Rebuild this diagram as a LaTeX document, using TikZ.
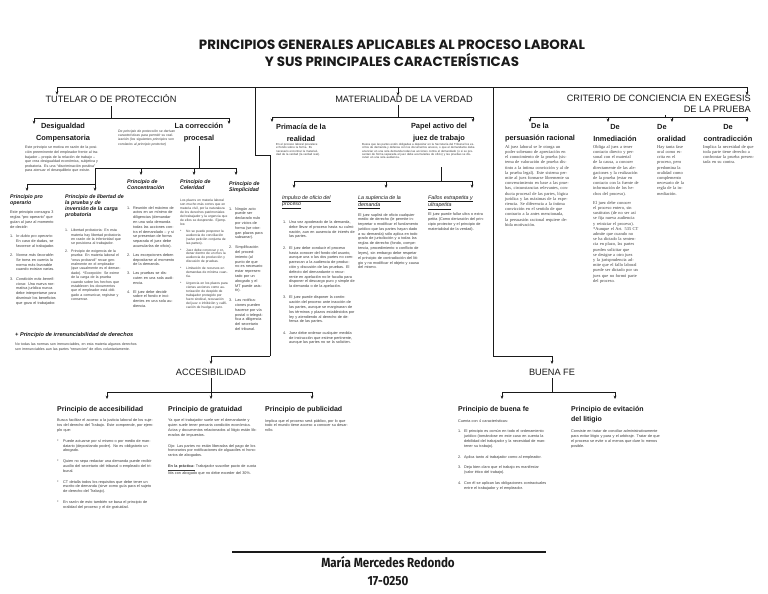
\documentclass[tikz,border=0pt]{standalone}
\usepackage{fontspec}
\setmainfont{Liberation Sans}
\newfontfamily\titlefont{Poppins}
\newfontfamily\bodyserif{Liberation Serif}
\newfontfamily\signfont[FakeStretch=0.88]{Fira Sans}
\usetikzlibrary{arrows.meta}
\definecolor{InkDark}{HTML}{1A1A1A}
\definecolor{InkBody}{HTML}{3C3C3C}
% numbered / starred entry with hanging indent
\newlength{\itemgap}
\setlength{\itemgap}{3pt}
\newcommand{\itm}[2]{\par\vskip\itemgap\noindent\hangindent=6pt\hangafter=1\makebox[6pt][l]{#1}#2\par}

\begin{document}
\begin{tikzpicture}[x=1pt,y=-1pt,
  every node/.style={inner sep=0pt, text=InkDark},
  conn/.style={line width=0.85pt, draw=InkDark},
  toarrow/.style={conn, -{Stealth[length=3.4pt,width=2.8pt]}},
  maintitle/.style={font=\titlefont\bfseries\fontsize{13.4}{17}\selectfont, align=center},
  sechead/.style={font=\fontsize{9.2}{11}\selectfont, align=right},
  subhead/.style={font=\bfseries\fontsize{7.4}{12}\selectfont, align=center},
  ithead/.style={anchor=north west, align=left, font=\bfseries\itshape\fontsize{5.3}{6.3}\selectfont},
  ulhead/.style={anchor=north west, align=left, font=\itshape\fontsize{5.3}{6.3}\selectfont},
  prinhead/.style={anchor=north west, align=left, font=\bfseries\fontsize{7}{10}\selectfont},
  body/.style={anchor=north west, align=left, text=InkBody, font=\fontsize{3.8}{4.8}\selectfont},
  smallbody/.style={body, font=\fontsize{3.6}{4.4}\selectfont},
  tinybody/.style={body, font=\fontsize{2.9}{3.4}\selectfont},
  serifbody/.style={body, font=\bodyserif\fontsize{4.4}{5.2}\selectfont},
  notebody/.style={body, font=\itshape\fontsize{3.4}{4.1}\selectfont}]
\useasboundingbox[fill=white] (0,0) rectangle (768,594);

% title and top line
\node[maintitle] (title) at (392,53) {PRINCIPIOS GENERALES APLICABLES AL PROCESO LABORAL\\Y SUS PRINCIPALES CARACTERÍSTICAS};
\coordinate (topL) at (57,87);
\coordinate (topR) at (747,87);
\coordinate (topM) at (398,87);
\coordinate (sepA) at (255,87);
\coordinate (sepB) at (493,87);
\draw[conn] (topL) -- (topR);

\node[sechead] (tutelar) at (111,99) {TUTELAR O DE PROTECCIÓN};
\node[sechead] (materia) at (404,99) {MATERIALIDAD DE LA VERDAD};
\node[sechead, anchor=north east] (criterio) at (751,95) {CRITERIO DE CONCIENCIA EN EXEGESIS\\DE LA PRUEBA};
\draw[toarrow] (topL) -- (tutelar.north -| topL);
\draw[toarrow] (topM) -- (materia.north -| topM);
\draw[toarrow] (topR) -- (criterio.north -| topR);

% column borders
\coordinate (sepAj) at (255,155);
\coordinate (sepAk) at (270,155);
\coordinate (sepAb) at (270,356);
\coordinate (accIn) at (211,364);
\coordinate (sepBb) at (493,356);
\coordinate (bfIn) at (552,364);
\draw[conn] (sepA) -- (sepAj) -- (sepAk) -- (sepAb);
\draw[toarrow] (sepAb) -| (accIn);
\draw[conn] (sepB) -- (sepBb);
\draw[toarrow] (sepBb) -| (bfIn);

% ---------- TUTELAR ----------
\coordinate (tutJ) at (111,118);
\coordinate (desigIn) at (34,124);
\coordinate (correcIn) at (229,124);
\draw[conn, shorten <=3pt] (tutelar.south) -- (tutJ);
\draw[toarrow] (tutJ) -| (desigIn);
\draw[toarrow] (tutJ) -| (correcIn);

\node[subhead] (desig) at (63,133) {Desigualdad\\Compensatoria};
\node[subhead] (correc) at (199,133) {La corrección\\procesal};
\node[body, text width=77pt, font=\fontsize{3.6}{4.6}\selectfont] (desigtxt) at (25,146) {Este principio se motiva en razón de la posición preeminente del empleador frente al trabajador – propia de la relación de trabajo – que crea desigualdad económica, subjetiva y probatoria. Es una “discriminación positiva” para atenuar el desequilibrio que existe.};
\node[notebody, text width=62pt] (derivtxt) at (118,130) {De principio de protección se derivan características para permitir su realización (los siguientes principios son corolarios al principio protector)};

\coordinate (procJ) at (199,168);
\coordinate (procL) at (95,168);
\coordinate (concIn) at (141,175);
\coordinate (celIn) at (194,175);
\coordinate (simpIn) at (236,175);
\coordinate (libJ) at (95,184);
\coordinate (proIn) at (27,191);
\coordinate (libIn) at (95,191);
\draw[conn, shorten <=3pt] (correc.south) -- (procJ);
\draw[conn] (procJ) -- (procL) -- (libJ);
\draw[toarrow] (procJ) -| (simpIn);
\draw[toarrow] (celIn |- procJ) -- (celIn);
\draw[toarrow] (concIn |- procJ) -- (concIn);
\draw[toarrow] (libJ) -| (proIn);
\draw[toarrow] (libJ) -- (libIn);

\node[ithead] (prohead) at (10,194) {Principio pro\\operario};
\node[body, text width=46pt] (protxt) at (10,211) {\setlength{\itemgap}{4.5pt}Este principio consagra 3 reglas “pro operario” que guían al juez al momento de decidir:
\itm{1.}{\textit{In dubio pro operario}: En caso de dudas, se favorece al trabajador.}
\itm{2.}{\textit{Norma más favorable}: Se toma en cuenta la norma más favorable cuando existan varias.}
\itm{3.}{\textit{Condición más beneficiosa}: Una nueva normativa jurídica nunca debe interpretarse para disminuir los beneficios que goza el trabajador.}};

\node[ithead] (libhead) at (65,194) {Principio de libertad de\\la prueba y de\\inversión de la carga\\probatoria};
\node[smallbody, text width=56pt] (libtxt) at (65,224) {\itm{1.}{Libertad probatoria: En esta materia hay libertad probatoria en razón de la inferioridad que se posiciona al trabajador.}
\itm{2.}{Principio de exigencia de la prueba: En materia laboral el “onus probandi” recae generalmente en el empleador (que usualmente es el demandado). *Excepción: Se exime de la carga de la prueba cuando sobre los hechos que establecen los documentos que el empleador está obligado a comunicar, registrar y conservar.}};

\node[ithead] (conchead) at (127,179) {Principio de\\Concentración};
\node[body, text width=47pt] (conctxt) at (127,200) {\setlength{\itemgap}{4pt}\itm{1.}{Reunión del máximo de actos en un mínimo de diligencias (demandar en una sola demanda todas las acciones contra el demandado – y si se presentan de forma separada el juez debe acumularlas de oficio).}
\itm{2.}{Las excepciones deben depositarse al momento de la demanda.}
\itm{3.}{Las pruebas se discuten en una sola audiencia.}
\itm{4.}{El juez debe decidir sobre el fondo e incidentes en una sola audiencia.}};

\node[ithead] (celhead) at (180,179) {Principio de\\Celeridad};
\node[body, text width=48pt, font=\fontsize{3.3}{3.95}\selectfont] (celtxt) at (180,199) {Los plazos en materia laboral son mucho más cortos que en materia civil, por la naturaleza de los derechos patrimoniales del trabajador y la urgencia que de ellos se desprende. Ejemplos:
\itm{*}{No se puede posponer la audiencia de conciliación (salvo petición conjunta de las partes).}
\itm{*}{Juez debe convocar y ordenar dentro de un mes la audiencia de producción y discusión de pruebas.}
\itm{*}{Limitación de recursos en demandas de mínima cuantía.}
\itm{*}{Urgencia en los plazos para ciertas acciones como autorización de despido de trabajador protegido por fuero sindical, recusación del juez o inhibición y calificación de huelga o paro.}};

\node[ithead] (simphead) at (229,181) {Principio de\\Simplicidad};
\node[body, text width=34pt] (simptxt) at (229,200) {\setlength{\itemgap}{5pt}\itm{1.}{Ningún acto puede ser declarado nulo por vicios de forma (se otorgan plazos para subsanar).}
\itm{2.}{Simplificación del procedimiento (al punto de que no es necesario estar representado por un abogado y el MT puede asistir).}
\itm{3.}{Las notificaciones pueden hacerse por vía postal o telegráfica a diligencia del secretario del tribunal.}};

\node[ithead, font=\bfseries\itshape\fontsize{5.6}{6.6}\selectfont] (irren) at (15,332) {+ Principio de irrenunciabilidad de derechos};
\node[body, text width=126pt, font=\fontsize{3.6}{4.4}\selectfont] (irrentxt) at (15,343) {No todas las normas son irrenunciables, en esta materia algunos derechos son irrenunciables aun las partes “renuncien” de ellos voluntariamente.};

% ---------- MATERIALIDAD ----------
\coordinate (matJ) at (398,117);
\coordinate (primIn) at (272,122);
\coordinate (papelIn) at (473,122);
\draw[conn, shorten <=3pt] (materia.south -| matJ) -- (matJ);
\draw[toarrow] (matJ) -| (primIn);
\draw[toarrow] (matJ) -| (papelIn);

\node[subhead] (primacia) at (301,133) {Primacía de la\\realidad};
\node[subhead] (papel) at (439,133) {Papel activo del\\juez de trabajo};
\node[tinybody, text width=44pt] (primtxt) at (276,143) {En el proceso laboral prevalece el fondo sobre la forma. Es necesario encontrar la materialidad de la verdad (la verdad real).};
\node[tinybody, text width=114pt] (papeltxt) at (362,143) {Busca que las partes estén obligadas a depositar en la Secretaría del Tribunal los escritos de demanda y defensa con los documentos anexos, o que el demandante deba anunciar en una sola demanda todas las acciones contra el demandado (o si se presentan de forma separada el juez debe acumularlas de oficio) y las pruebas se discuten en una sola audiencia.};

\coordinate (papJ) at (441,181);
\coordinate (impIn) at (294,188);
\coordinate (supIn) at (386,188);
\coordinate (falIn) at (472,188);
\draw[conn, shorten <=8pt] (papeltxt.south -| papJ) -- (papJ);
\draw[toarrow] (papJ) -| (impIn);
\draw[toarrow] (papJ) -| (falIn);
\draw[toarrow] (supIn |- papJ) -- (supIn);

\node[ulhead] (imphead) at (282,195) {\underline{Impulso de oficio del}\\\underline{proceso}};
\node[body, text width=72pt] (imptxt) at (283,212) {\setlength{\itemgap}{6.5pt}\itm{1.}{Una vez apoderado de la demanda, debe llevar el proceso hasta su culminación, aun en ausencia de interés de las partes.}
\itm{2.}{El juez debe conducir el proceso hasta conocer del fondo del asunto, aunque una o las dos partes no comparezcan a la audiencia de producción y discusión de las pruebas. El defecto del demandante o recurrente en apelación no le faculta para disponer el descargo puro y simple de la demanda o de la apelación.}
\itm{3.}{El juez puede disponer la continuación del proceso ante inacción de las partes, aunque se marginaran de los términos y plazos establecidos por ley y atendiendo al derecho de defensa de las partes.}
\itm{4.}{Juez debe ordenar cualquier medida de instrucción que estime pertinente, aunque las partes no se la soliciten.}};

\node[ulhead] (suphead) at (358,195) {\underline{La suplencia de la}\\\underline{demanda}};
\node[body, text width=61pt] (suptxt) at (358,213) {El juez suplirá de oficio cualquier medio de derecho (le permite interpretar o modificar el fundamento jurídico que las partes hayan dado a su demanda) sólo aplica en todo grado de jurisdicción y a todas las reglas de derecho (fondo, competencia, procedimiento o conflicto de leyes), sin embargo debe respetar el principio de contradicción del litigio y no modificar el objeto y causa del mismo.};

\node[ulhead] (falhead) at (428,195) {\underline{Fallos extrapetita y}\\\underline{ultrapetita}};
\node[body, text width=57pt] (faltxt) at (428,213) {El juez puede fallar ultra o extra petita (Como derivación del principio protector y el principio de materialidad de la verdad).};

% ---------- CRITERIO ----------
\coordinate (criJ) at (665,117);
\coordinate (persIn) at (530,122);
\coordinate (inmIn) at (608,122);
\coordinate (oralIn) at (672,122);
\coordinate (contIn) at (747,122);
\draw[conn, shorten <=2pt] (criterio.south -| criJ) -- (criJ);
\draw[toarrow] (criJ) -| (persIn);
\draw[toarrow] (criJ) -| (contIn);
\draw[toarrow] (inmIn |- criJ) -- (inmIn);
\draw[toarrow] (oralIn |- criJ) -- (oralIn);

\node[subhead] (persua) at (540,133) {De la\\persuasión racional};
\node[subhead] (inmed) at (615,133) {De\\Inmediación};
\node[subhead, align=left, anchor=west] (oral) at (657,133) {De\\oralidad};
\node[subhead] (contra) at (728,133) {De\\contradicción};

\node[serifbody, text width=66pt] (perstxt) at (505,145) {Al juez laboral se le otorga un poder soberano de apreciación en el conocimiento de la prueba (sistema de valoración de prueba distinto a la íntima convicción y al de la prueba legal). Este sistema permite al juez formarse libremente su convencimiento en base a las pruebas, circunstancias relevantes, conducta procesal de las partes, lógica jurídica y las máximas de la experiencia. Se diferencia a la íntima convicción en el sentido de que contrario a la antes mencionada, la persuasión racional requiere debida motivación.};
\node[serifbody, text width=46pt] (inmtxt) at (593,145) {Obliga al juez a tener contacto directo y personal con el material de la causa, a conocer directamente de las alegaciones y la realización de la prueba (estar en contacto con la fuente de información de los hechos del proceso).\par\vskip 4pt
El juez debe conocer el proceso entero, sin sustitutos (de no ser así se fija nueva audiencia y reiniciar el proceso). *Aunque el Art. 535 CT admite que cuando no se ha dictado la sentencia en plazo, las partes pueden solicitar que se designe a otro juez y la jurisprudencia admite que el fallo laboral puede ser dictado por un juez que no formó parte del proceso.};
\node[serifbody, text width=29pt] (oraltxt) at (657,145) {Hay tanta fase oral como escrita en el proceso, pero predomina la oralidad como complemento necesario de la regla de la inmediación.};
\node[serifbody, text width=52pt] (conttxt) at (703,145) {Implica la necesidad de que toda parte tiene derecho a confrontar la prueba presentada en su contra.};

% ---------- ACCESIBILIDAD ----------
\node[sechead] (acces) at (211,372) {ACCESIBILIDAD};
\coordinate (accJ) at (211,392);
\coordinate (paccIn) at (107,399);
\coordinate (gratIn) at (211,399);
\coordinate (pubIn) at (312,399);
\draw[conn, shorten <=3pt] (acces.south) -- (accJ);
\draw[toarrow] (accJ) -| (paccIn);
\draw[toarrow] (accJ) -| (pubIn);
\draw[toarrow] (accJ) -- (gratIn);

\node[prinhead] (pacc) at (57,406) {Principio de accesibilidad};
\node[body, text width=98pt] (pacctxt) at (57,419) {\setlength{\itemgap}{6pt}Busca facilitar el acceso a la justicia laboral de los sujetos del derecho del Trabajo. Este comprende, por ejemplo que:
\itm{*}{Puede actuarse por sí mismo o por medio de mandatario (depositando poder). No es obligatorio un abogado.}
\itm{*}{Quien no sepa redactar una demanda puede recibir auxilio del secretario del tribunal o empleado del tribunal.}
\itm{*}{CT detalla todos los requisitos que debe tener un escrito de demanda (sirve como guía para el sujeto de derecho del Trabajo).}
\itm{*}{En razón de esto también se basa el principio de oralidad del proceso y el de gratuidad.}};

\node[prinhead] (pgrat) at (168,406) {Principio de gratuidad};
\node[body, text width=90pt] (grattxt) at (168,419) {Ya que el trabajador suele ser el demandante y quien suele tener precaria condición económica. Actas y documentos relacionados al litigio están liberados de impuestos.\par\vskip 6pt
Ojo: Las partes no están liberadas del pago de los honorarios por notificaciones de alguaciles ni honorarios de abogados.\par\vskip 6pt
\underline{\textbf{En la práctica:}} Trabajador suscribe pacto de cuota litis con abogado que no debe exceder del 30\%.};

\node[prinhead] (ppub) at (265,406) {Principio de publicidad};
\node[body, text width=84pt] (pubtxt) at (265,419) {Implica que el proceso será público, por lo que todo el mundo tiene acceso a conocer su desarrollo.};

% ---------- BUENA FE ----------
\node[sechead] (buenafe) at (552,372) {BUENA FE};
\coordinate (bfJ) at (552,392);
\coordinate (pbfIn) at (502,399);
\coordinate (litIn) at (615,399);
\draw[conn, shorten <=3pt] (buenafe.south) -- (bfJ);
\draw[toarrow] (bfJ) -| (pbfIn);
\draw[toarrow] (bfJ) -| (litIn);

\node[prinhead] (pbuena) at (458,406) {Principio de buena fe};
\node[body, text width=90pt] (buenatxt) at (458,419) {\setlength{\itemgap}{6pt}Cuenta con 4 características:
\itm{1.}{El principio es común en todo el ordenamiento jurídico (tomándose en este caso en cuenta la debilidad del trabajador y la necesidad de mantener su trabajo).}
\itm{2.}{Aplica tanto al trabajador como al empleador.}
\itm{3.}{Deja bien claro que el trabajo es manifestar (valor ético del trabajo).}
\itm{4.}{Con él se aplican las obligaciones contractuales entre el trabajador y el empleador.}};

\node[prinhead] (plitig) at (571,406) {Principio de evitación\\del litigio};
\node[body, text width=90pt] (litigtxt) at (571,430) {Consiste en tratar de conciliar administrativamente para evitar litigio y para y el arbitraje. Tratar de que el proceso se evite o al menos que dure lo menos posible.};

% ---------- firma ----------
\coordinate (sigL) at (232,552);
\coordinate (sigR) at (546,552);
\draw[line width=1.1pt, InkDark] (sigL) -- (sigR);
\node[font=\signfont\bfseries\fontsize{13.2}{18}\selectfont, align=center] (autora) at (388,571) {María Mercedes Redondo\\17-0250};
\end{tikzpicture}
\end{document}
